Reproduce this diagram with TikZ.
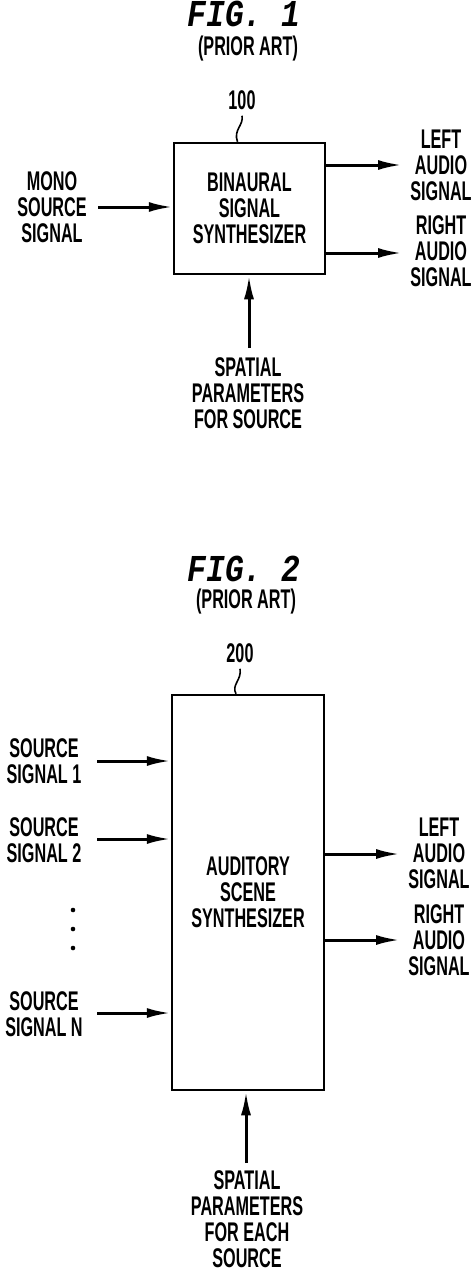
\documentclass[tikz,border=0pt]{standalone}
\usepackage{fontspec}
\setmainfont{Liberation Sans}[FakeStretch=0.6]
\newfontfamily\figfont{Liberation Mono}[FakeStretch=0.82]
\usetikzlibrary{arrows.meta}
\begin{document}
\begin{tikzpicture}[x=1pt,y=-1pt,
  lbl/.style={align=center,font=\bfseries\fontsize{27}{26}\selectfont,inner sep=0pt},
  blk/.style={draw,line width=2.5pt,align=center,font=\bfseries\fontsize{27}{26}\selectfont,inner sep=0pt},
  sig/.style={line width=3pt,-{Latex[length=24pt,width=10pt]}},
  ttl/.style={font=\figfont\bfseries\itshape\fontsize{38}{38}\selectfont,inner sep=0pt},
  lead/.style={line width=1.6pt}]
\useasboundingbox (0,0) rectangle (474,1271);
% ---------------- FIG. 1 ----------------
\node[ttl,anchor=base] (t1) at (244,27) {FIG. 1};
\node[lbl] (p1) at (248,49) {(PRIOR ART)};
\node[lbl] (n100) at (242,100) {100};
\node[blk,minimum width=151pt,minimum height=131pt] (b1) at (249.5,208.5)
  {BINAURAL\\SIGNAL\\SYNTHESIZER};
\draw[lead] ([yshift=-6pt]n100.south) .. controls (244,125) and (233,130) .. ([xshift=-12pt]b1.north);
\node[lbl] (mono) at (52,207) {MONO\\SOURCE\\SIGNAL};
\node[lbl] (l1) at (441,165) {LEFT\\AUDIO\\SIGNAL};
\node[lbl] (r1) at (441,251) {RIGHT\\AUDIO\\SIGNAL};
\node[lbl] (s1) at (248,393) {SPATIAL\\PARAMETERS\\FOR SOURCE};
\coordinate (mi1) at (98,207);
\coordinate (lo1) at (402,165);
\coordinate (ro1) at (402,253);
\coordinate (si1) at (249,348);
\draw[sig] (mi1) -- (mi1 -| b1.west);
\draw[sig] (lo1 -| b1.east) -- (lo1);
\draw[sig] (ro1 -| b1.east) -- (ro1);
\draw[sig] (si1) -- (si1 |- b1.south);
% ---------------- FIG. 2 ----------------
\node[ttl,anchor=base] (t2) at (244,581) {FIG. 2};
\node[lbl] (p2) at (246,602) {(PRIOR ART)};
\node[lbl] (n200) at (240,653) {200};
\node[blk,minimum width=152pt,minimum height=395pt] (b2) at (248,892.5)
  {AUDITORY\\SCENE\\SYNTHESIZER};
\draw[lead] ([yshift=-6pt]n200.south) .. controls (242,680) and (231,685) .. ([xshift=-12pt]b2.north);
\node[lbl] (src1) at (44,761.5) {SOURCE\\SIGNAL 1};
\node[lbl] (src2) at (44,840) {SOURCE\\SIGNAL 2};
\node[lbl] (srcn) at (44,1014) {SOURCE\\SIGNAL N};
\fill (73,910) circle[radius=2.3pt];
\fill (73,929) circle[radius=2.3pt];
\fill (73,948) circle[radius=2.3pt];
\node[lbl] (l2) at (439,853) {LEFT\\AUDIO\\SIGNAL};
\node[lbl] (r2) at (439,940) {RIGHT\\AUDIO\\SIGNAL};
\node[lbl] (s2) at (247,1219) {SPATIAL\\PARAMETERS\\FOR EACH\\SOURCE};
\coordinate (i21) at (97,761);
\coordinate (i22) at (97,839);
\coordinate (i2n) at (97,1013);
\coordinate (lo2) at (400,854);
\coordinate (ro2) at (400,940);
\coordinate (si2) at (246,1163);
\draw[sig] (i21) -- (i21 -| b2.west);
\draw[sig] (i22) -- (i22 -| b2.west);
\draw[sig] (i2n) -- (i2n -| b2.west);
\draw[sig] (lo2 -| b2.east) -- (lo2);
\draw[sig] (ro2 -| b2.east) -- (ro2);
\draw[sig] (si2) -- (si2 |- b2.south);
\end{tikzpicture}
\end{document}
